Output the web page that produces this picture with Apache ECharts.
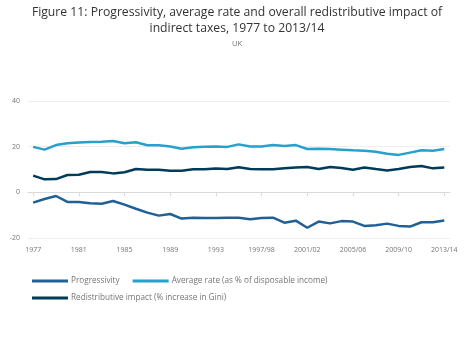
<!DOCTYPE html>
<html>
<head>
<meta charset="utf-8">
<script src="https://cdn.jsdelivr.net/npm/echarts@6/dist/echarts.min.js"></script>
<style>
  html, body { margin: 0; padding: 0; background: #fff; }
  #chart { width: 474px; height: 339px; }
</style>
</head>
<body>
<div id="chart"></div>
<script>
// Survey years: calendar years to 1993, financial years thereafter
const years = [
  '1977', '1978', '1979', '1980', '1981', '1982', '1983', '1984', '1985',
  '1986', '1987', '1988', '1989', '1990', '1991', '1992', '1993',
  '1994/95', '1995/96', '1996/97', '1997/98', '1998/99', '1999/00',
  '2000/01', '2001/02', '2002/03', '2003/04', '2004/05', '2005/06',
  '2006/07', '2007/08', '2008/09', '2009/10', '2010/11', '2011/12',
  '2012/13', '2013/14'
];

const progressivity = [
  -4.5, -2.9, -1.6, -4.2, -4.2, -4.8, -5.0, -3.8, -5.4,
  -7.2, -8.9, -10.2, -9.5, -11.5, -11.1, -11.2, -11.2,
  -11.1, -11.1, -11.8, -11.2, -11.1, -13.3,
  -12.4, -15.5, -12.8, -13.6, -12.6, -12.8,
  -14.7, -14.4, -13.7, -14.7, -15.0, -13.1,
  -13.1, -12.3
];

const averageRate = [
  19.9, 18.7, 20.7, 21.5, 21.8, 22.0, 22.2, 22.5, 21.5,
  21.9, 20.6, 20.6, 20.1, 19.1, 19.7, 20.0, 20.1,
  19.9, 21.0, 20.1, 20.1, 20.7, 20.3,
  20.7, 19.0, 19.1, 19.0, 18.7, 18.4,
  18.2, 17.8, 16.9, 16.4, 17.4, 18.4,
  18.2, 19.0
];

const redistributiveImpact = [
  7.3, 5.7, 5.8, 7.6, 7.7, 8.9, 8.9, 8.3, 8.8,
  10.2, 9.9, 9.9, 9.5, 9.5, 10.1, 10.1, 10.4,
  10.2, 11.0, 10.2, 10.1, 10.1, 10.5,
  10.9, 11.1, 10.2, 11.1, 10.7, 9.9,
  10.9, 10.2, 9.6, 10.2, 11.1, 11.5,
  10.5, 10.9
];

const xTickLabels = ['1977', '1981', '1985', '1989', '1993', '1997/98', '2001/02', '2005/06', '2009/10', '2013/14'];
const yTicks = [-20, 0, 20, 40];

const seriesNames = [
  'Progressivity',
  'Average rate (as % of disposable income)',
  'Redistributive impact (% increase in Gini)'
];

const xTickIndex = xTickLabels.map(l => years.indexOf(l));
const toPoints = arr => arr.map((v, i) => [i, v]);

const font = '"Open Sans", "Noto Sans", sans-serif';
const chart = echarts.init(document.getElementById('chart'), null, { renderer: 'canvas' });

const lineSeries = (name, values, color) => ({
  name: name,
  type: 'line',
  data: toPoints(values),
  showSymbol: false,
  symbol: 'none',
  lineStyle: { color: color, width: 2.5 },
  itemStyle: { color: color },
  animation: false
});

// Two legend rows, each built as its own object
const makeLegend = (top, names) => ({
  left: 32,
  top: top,
  padding: 0,
  orient: 'horizontal',
  icon: 'rect',
  itemWidth: 36,
  itemHeight: 3,
  itemGap: 13,
  textStyle: { fontFamily: font, fontSize: 8.2, color: '#757575', padding: [0, 0, 0, -2] },
  data: names
});

chart.setOption({
  backgroundColor: '#ffffff',
  textStyle: { fontFamily: font },
  title: [
    {
      text: 'Figure 11: Progressivity, average rate and overall redistributive impact of\nindirect taxes, 1977 to 2013/14',
      left: 237,
      top: 5,
      padding: 0,
      textAlign: 'center',
      textStyle: { fontFamily: font, fontSize: 12.2, fontWeight: 'normal', color: '#333333', lineHeight: 16 }
    },
    {
      text: 'UK',
      left: 237,
      top: 40,
      padding: 0,
      textAlign: 'center',
      textStyle: { fontFamily: font, fontSize: 7.5, fontWeight: 'normal', color: '#757575' }
    }
  ],
  legend: [
    makeLegend(277, seriesNames.slice(0, 2)),
    makeLegend(294, seriesNames.slice(2))
  ],
  grid: { left: 28, right: 24, top: 101, bottom: 101, containLabel: false },
  xAxis: {
    type: 'value',
    min: -0.45,
    max: 36.5,
    splitLine: { show: false },
    axisLine: { show: true, lineStyle: { color: '#d9d9d9', width: 1 } },
    axisTick: {
      show: true,
      length: 4,
      customValues: xTickIndex,
      lineStyle: { color: '#d9d9d9' }
    },
    axisLabel: {
      customValues: xTickIndex,
      formatter: v => years[Math.round(v)],
      color: '#757575',
      fontSize: 7,
      margin: 8,
      fontFamily: font
    }
  },
  yAxis: {
    type: 'value',
    min: yTicks[0],
    max: yTicks[yTicks.length - 1],
    interval: 20,
    axisLine: { show: false },
    axisTick: { show: false },
    axisLabel: { color: '#757575', fontSize: 7, margin: 8, fontFamily: font },
    splitLine: { show: true, lineStyle: { color: '#eeeeee', width: 1 } }
  },
  series: [
    lineSeries(seriesNames[0], progressivity, '#206095'),
    lineSeries(seriesNames[1], averageRate, '#27a0cc'),
    lineSeries(seriesNames[2], redistributiveImpact, '#003c57')
  ]
});
</script>
</body>
</html>
